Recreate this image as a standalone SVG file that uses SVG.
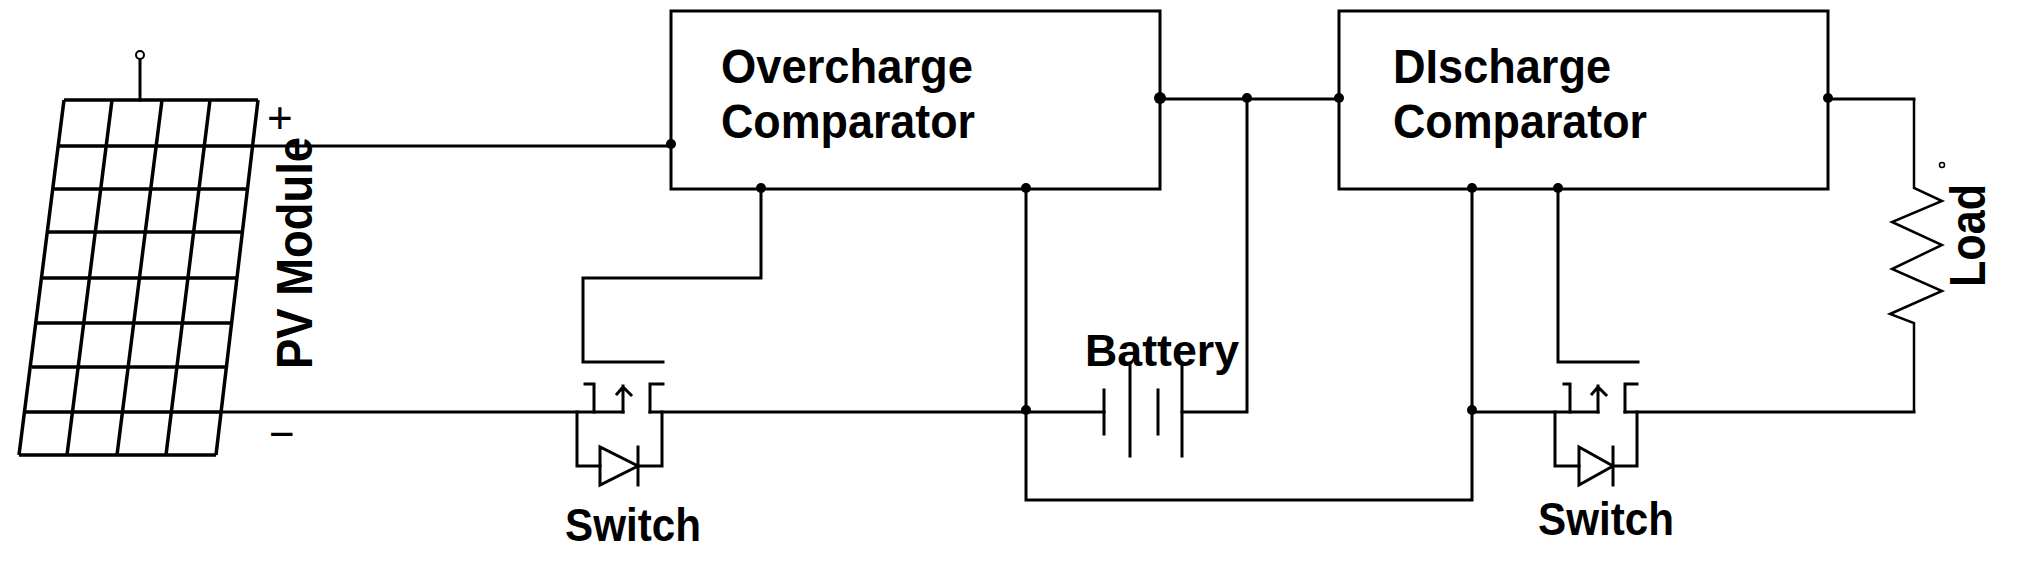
<svg xmlns="http://www.w3.org/2000/svg" width="2030" height="579" viewBox="0 0 2030 579">
<style>
.w{fill:none;stroke:#000;stroke-width:3;stroke-linecap:square}
.p{fill:none;stroke:#000;stroke-width:3.5}
.t{font-family:"Liberation Sans",Arial,sans-serif;fill:#000}
.b{font-weight:bold}
.d{fill:#000}
</style>
<rect width="2030" height="579" fill="#fff"/>
<g id="pv-module">
<path class="p" d="M64,100H258M58,146H253M53,189H248M48,232H243M42,278H237M37,323H232M32,367H227M26,412H221M19,455H216"/>
<path class="p" d="M64,100L19,455M112,100L67,455M162,100L117,455M210,100L166,455M258,100L216,455"/>
<path class="w" d="M140,100V59"/>
<circle cx="140" cy="55" r="4" fill="#fff" stroke="#000" stroke-width="2"/>
<text class="t" x="267" y="133" font-size="44">+</text>
<text class="t" x="269" y="449" font-size="44">−</text>
<text class="t b" transform="translate(312,369) rotate(-90)" font-size="50" textLength="232" lengthAdjust="spacingAndGlyphs">PV Module</text>
</g>
<g id="overcharge">
<rect class="w" x="671" y="11" width="489" height="178"/>
<text class="t b" x="721" y="83" font-size="48" textLength="252" lengthAdjust="spacingAndGlyphs">Overcharge</text>
<text class="t b" x="721" y="138" font-size="48" textLength="254" lengthAdjust="spacingAndGlyphs">Comparator</text>
</g>
<g id="discharge">
<rect class="w" x="1339" y="11" width="489" height="178"/>
<text class="t b" x="1393" y="83" font-size="48" textLength="218" lengthAdjust="spacingAndGlyphs">DIscharge</text>
<text class="t b" x="1393" y="138" font-size="48" textLength="254" lengthAdjust="spacingAndGlyphs">Comparator</text>
</g>
<g id="switch1">
<path class="w" d="M585,384H594V412M650,412V384H663M623,412V386M617,394L623,387L631,395"/>
<path class="w" d="M577,412V466H600M638,466H662V412"/>
<path class="w" d="M600,447V485L638,466Z"/>
<path class="w" d="M638,447V485"/>
<text class="t b" x="565" y="541" font-size="46" textLength="136" lengthAdjust="spacingAndGlyphs">Switch</text>
</g>
<g id="switch2">
<path class="w" d="M1564,384H1570V412M1625,412V384H1637M1598,412V386M1592,394L1598,387L1606,395"/>
<path class="w" d="M1555,412V466H1579M1613,466H1637V412"/>
<path class="w" d="M1579,447V485L1613,466Z"/>
<path class="w" d="M1613,447V485"/>
<text class="t b" x="1538" y="535" font-size="46" textLength="136" lengthAdjust="spacingAndGlyphs">Switch</text>
</g>
<g id="battery">
<path class="w" d="M1104,390V434M1130,366V456M1158,390V434M1182,366V456"/>
<text class="t b" x="1085" y="366" font-size="44" textLength="154" lengthAdjust="spacingAndGlyphs">Battery</text>
</g>
<g id="load">
<path fill="none" stroke="#000" stroke-width="2.5" d="M1914,99V188L1942,201L1892,222L1942,245L1892,269L1942,291L1890,314L1914,323V412"/>
<circle cx="1942" cy="165" r="2.5" fill="#fff" stroke="#000" stroke-width="1.5"/>
<text class="t b" transform="translate(1985,287) rotate(-90)" font-size="50" textLength="103" lengthAdjust="spacingAndGlyphs">Load</text>
</g>
<g id="connectors">
<path class="w" d="M253,146H671"/>
<path class="w" d="M221,412H623M650,412H1104M1182,412H1247V99"/>
<path class="w" d="M761,189V278H583V362H663"/>
<path class="w" d="M1160,99H1339"/>
<path class="w" d="M1026,189V500H1472V189"/>
<path class="w" d="M1472,412H1598M1625,412H1914"/>
<path class="w" d="M1558,189V362H1638"/>
<path class="w" d="M1828,99H1914"/>
<circle class="d" cx="671" cy="144" r="5"/>
<circle class="d" cx="1160" cy="98" r="6"/>
<circle class="d" cx="1247" cy="98" r="5"/>
<circle class="d" cx="1339" cy="98" r="5"/>
<circle class="d" cx="1828" cy="98" r="5"/>
<circle class="d" cx="761" cy="188" r="5"/>
<circle class="d" cx="1026" cy="188" r="5"/>
<circle class="d" cx="1026" cy="410" r="5"/>
<circle class="d" cx="1472" cy="188" r="5"/>
<circle class="d" cx="1558" cy="188" r="5"/>
<circle class="d" cx="1472" cy="410" r="5"/>
</g>
</svg>
